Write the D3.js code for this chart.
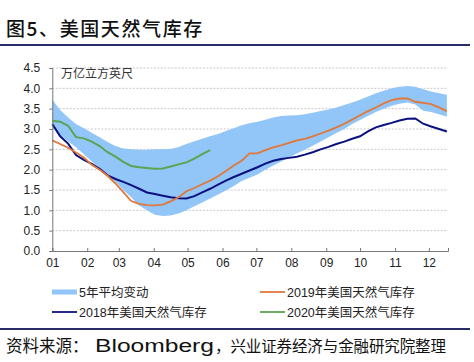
<!DOCTYPE html>
<html><head><meta charset="utf-8">
<script src="https://cdn.jsdelivr.net/npm/d3@7/dist/d3.min.js"></script>
<style>
html,body{margin:0;padding:0;background:#fff;}
svg{display:block;}
</style></head>
<body>
<svg id="c" width="474" height="362"></svg>
<script>
// ---- data (weekly readings, thousand-billion cubic feet) ----
const startDate = "2019-01-01";
const weekCount = 51;
const bandUpper = [3.72,3.47,3.28,3.12,3.02,2.91,2.80,2.68,2.58,2.52,2.50,2.49,2.49,2.50,2.50,2.51,2.56,2.63,2.70,2.76,2.82,2.88,2.95,3.02,3.09,3.14,3.18,3.23,3.28,3.32,3.33,3.34,3.36,3.40,3.44,3.48,3.53,3.59,3.65,3.72,3.80,3.88,3.94,4.00,4.04,4.06,4.04,3.98,3.92,3.88,3.84];
const bandLower = [3.08,2.85,2.70,2.55,2.38,2.20,2.04,1.87,1.70,1.50,1.32,1.12,1.00,0.89,0.86,0.87,0.92,1.00,1.10,1.19,1.29,1.39,1.49,1.60,1.72,1.80,1.88,2.00,2.10,2.20,2.30,2.40,2.49,2.59,2.69,2.80,2.90,3.00,3.12,3.22,3.32,3.42,3.50,3.57,3.62,3.65,3.60,3.45,3.42,3.36,3.30];
const s2018 = [3.12,2.82,2.64,2.36,2.24,2.14,2.02,1.86,1.77,1.70,1.62,1.53,1.44,1.40,1.36,1.32,1.30,1.29,1.35,1.44,1.53,1.63,1.73,1.82,1.90,1.98,2.06,2.15,2.22,2.26,2.29,2.32,2.37,2.43,2.50,2.56,2.63,2.69,2.76,2.82,2.94,3.04,3.10,3.15,3.21,3.25,3.26,3.13,3.06,3.00,2.94];
const s2019 = [2.72,2.63,2.54,2.42,2.30,2.12,2.00,1.85,1.66,1.45,1.23,1.16,1.13,1.12,1.14,1.22,1.32,1.47,1.55,1.64,1.73,1.84,1.97,2.10,2.22,2.40,2.40,2.48,2.55,2.60,2.66,2.72,2.76,2.82,2.89,2.96,3.04,3.13,3.23,3.34,3.44,3.53,3.63,3.71,3.75,3.75,3.67,3.64,3.61,3.53,3.44];
const s2020 = [3.20,3.18,3.08,2.80,2.77,2.69,2.58,2.43,2.32,2.19,2.09,2.06,2.04,2.02,2.03,2.08,2.13,2.18,2.27,2.38,2.48];
const yTicks = [0,0.5,1,1.5,2,2.5,3,3.5,4,4.5];
const monthLabels = ["01","02","03","04","05","06","07","08","09","10","11","12"];
const legendLabels = ["5年平均变动","2019年美国天然气库存","2018年美国天然气库存","2020年美国天然气库存"];
const titleText = "图5、美国天然气库存";
const unitText = "万亿立方英尺";

// ---- setup ----
const svg = d3.select("#c");
const parse = d3.timeParse("%Y-%m-%d");
const t0 = parse(startDate);
const dates = d3.range(weekCount).map(i => d3.timeDay.offset(t0, 7*i));
const tEnd = d3.timeDay.offset(t0, 351);

const X0 = 52.3, X1 = 448, Y0 = 251, Y1 = 68;
const x = d3.scaleTime().domain([t0, tEnd]).range([X0, X1]);
const y = d3.scaleLinear().domain([0, 4.5]).range([Y0, Y1]);

const latin = "'Liberation Sans', Arial, 'Noto Sans CJK SC', sans-serif";
const cjk = "'Noto Sans CJK SC', sans-serif";

// title
svg.append("text").attr("x", 6).attr("y", 36)
  .attr("font-family", cjk).attr("font-size", 19).attr("font-weight", 500)
  .attr("letter-spacing", 1.6).attr("fill", "#111").text(titleText);
svg.append("line").attr("x1", 0).attr("x2", 470).attr("y1", 45).attr("y2", 45)
  .attr("stroke", "#2a2c68").attr("stroke-width", 2);

// grid
svg.append("g").selectAll("line").data(yTicks.filter(d => d > 0)).join("line")
  .attr("x1", X0).attr("x2", X1).attr("y1", d => y(d)).attr("y2", d => y(d))
  .attr("stroke", "#c8c8c8").attr("stroke-width", 1).attr("stroke-dasharray", "2,1.5");

// band
const area = d3.area().x((d, i) => x(dates[i])).y0((d, i) => y(bandLower[i])).y1(d => y(d));
svg.append("path").datum(bandUpper).attr("d", area).attr("fill", "#92c5f8");

// lines
const line = d3.line().x((d, i) => x(dates[i])).y(d => y(d));
svg.append("path").datum(s2018).attr("d", line).attr("fill", "none")
  .attr("stroke", "#0b1280").attr("stroke-width", 2);
svg.append("path").datum(s2019).attr("d", line).attr("fill", "none")
  .attr("stroke", "#e0783a").attr("stroke-width", 1.8);
svg.append("path").datum(s2020).attr("d", line).attr("fill", "none")
  .attr("stroke", "#5aa552").attr("stroke-width", 2);

// y axis
const yAxis = d3.axisLeft(y).tickValues(yTicks).tickFormat(d3.format(".1f")).tickSize(3).tickPadding(9);
const gy = svg.append("g").attr("transform", `translate(${X0},0)`).call(yAxis);
gy.select(".domain").attr("stroke", "#777");
gy.selectAll(".tick line").attr("stroke", "#777");
gy.selectAll("text").attr("font-family", latin).attr("font-size", 12).attr("fill", "#222");

// x axis
const monthTicks = d3.timeMonth.range(t0, tEnd);
const xAxis = d3.axisBottom(x).tickValues(monthTicks).tickSize(-3).tickPadding(7)
  .tickFormat((d, i) => monthLabels[i]);
const gx = svg.append("g").attr("transform", `translate(0,${Y0})`).call(xAxis);
gx.select(".domain").attr("stroke", "#777");
gx.selectAll(".tick line").attr("stroke", "#777");
gx.selectAll("text").attr("font-family", latin).attr("font-size", 12).attr("fill", "#222");

// unit
svg.append("text").attr("x", 61).attr("y", 78).attr("font-family", cjk)
  .attr("font-size", 12).attr("fill", "#333").text(unitText);

// legend
const leg = [
  {x: 52, y: 292, type: "band", color: "#92c5f8", label: legendLabels[0]},
  {x: 260, y: 292, type: "line", color: "#e0783a", label: legendLabels[1]},
  {x: 52, y: 312, type: "line", color: "#0b1280", label: legendLabels[2]},
  {x: 260, y: 312, type: "line", color: "#5aa552", label: legendLabels[3]}
];
const lg = svg.append("g").selectAll("g").data(leg).join("g")
  .attr("transform", d => `translate(${d.x},${d.y})`);
lg.append("line").attr("x1", 0).attr("x2", 25).attr("y1", 0).attr("y2", 0)
  .attr("stroke", d => d.color).attr("stroke-width", d => d.type === "band" ? 5 : 1.8);
lg.append("text").attr("x", 27).attr("y", 4.5).attr("font-family", latin)
  .attr("font-size", 12.5).attr("fill", "#222").text(d => d.label);

// source
svg.append("line").attr("x1", 0).attr("x2", 470).attr("y1", 329).attr("y2", 329)
  .attr("stroke", "#2a2c68").attr("stroke-width", 2);
svg.append("text").attr("x", 6).attr("y", 352).attr("font-family", cjk)
  .attr("font-size", 16.5).attr("fill", "#111").text("资料来源：");
svg.append("text").attr("x", 95).attr("y", 352).attr("font-family", latin)
  .attr("font-size", 18).attr("fill", "#111").attr("textLength", 119)
  .attr("lengthAdjust", "spacingAndGlyphs").text("Bloomberg");
svg.append("text").attr("x", 215).attr("y", 352).attr("font-family", cjk)
  .attr("font-size", 15.5).attr("fill", "#111").attr("textLength", 231)
  .attr("lengthAdjust", "spacing").text("，兴业证券经济与金融研究院整理");
</script>
</body></html>
